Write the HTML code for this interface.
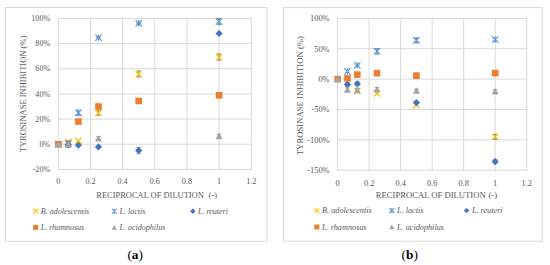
<!DOCTYPE html>
<html><head><meta charset="utf-8"><title>Tyrosinase inhibition</title>
<style>
html,body{margin:0;padding:0;background:#fff;width:550px;height:265px;overflow:hidden}
svg{display:block}
.t{font-family:"Liberation Serif",serif;font-size:8.1px;fill:#595959}
.at{font-family:"Liberation Serif",serif;font-size:8.45px;fill:#595959}
.lg{font-family:"Liberation Serif",serif;font-size:8px;font-style:italic;fill:#595959}
.cap{font-family:"Liberation Serif",serif;font-size:13.4px;fill:#000}
</style></head><body>
<svg width="550" height="265" viewBox="0 0 550 265">
<rect x="5.4" y="7.5" width="261.50" height="233.90" fill="#fff" stroke="#d9d9d9" stroke-width="1"/>
<line x1="57.8" x2="251.7" y1="18.40" y2="18.40" stroke="#d9d9d9" stroke-width="1"/>
<line x1="57.8" x2="251.7" y1="43.57" y2="43.57" stroke="#d9d9d9" stroke-width="1"/>
<line x1="57.8" x2="251.7" y1="68.73" y2="68.73" stroke="#d9d9d9" stroke-width="1"/>
<line x1="57.8" x2="251.7" y1="93.90" y2="93.90" stroke="#d9d9d9" stroke-width="1"/>
<line x1="57.8" x2="251.7" y1="119.07" y2="119.07" stroke="#d9d9d9" stroke-width="1"/>
<line x1="57.8" x2="251.7" y1="144.23" y2="144.23" stroke="#d9d9d9" stroke-width="1"/>
<line x1="57.8" x2="251.7" y1="169.40" y2="169.40" stroke="#d9d9d9" stroke-width="1"/>
<line x1="58.30" x2="58.30" y1="17.9" y2="169.9" stroke="#d9d9d9" stroke-width="1"/>
<line x1="90.45" x2="90.45" y1="17.9" y2="169.9" stroke="#d9d9d9" stroke-width="1"/>
<line x1="122.60" x2="122.60" y1="17.9" y2="169.9" stroke="#d9d9d9" stroke-width="1"/>
<line x1="154.75" x2="154.75" y1="17.9" y2="169.9" stroke="#d9d9d9" stroke-width="1"/>
<line x1="186.90" x2="186.90" y1="17.9" y2="169.9" stroke="#d9d9d9" stroke-width="1"/>
<line x1="219.05" x2="219.05" y1="17.9" y2="169.9" stroke="#d9d9d9" stroke-width="1"/>
<line x1="251.20" x2="251.20" y1="17.9" y2="169.9" stroke="#d9d9d9" stroke-width="1"/>
<text x="50.2" y="21.00" text-anchor="end" style="font-size:8.1px" class="t">100%</text>
<text x="50.2" y="46.17" text-anchor="end" style="font-size:8.1px" class="t">80%</text>
<text x="50.2" y="71.33" text-anchor="end" style="font-size:8.1px" class="t">60%</text>
<text x="50.2" y="96.50" text-anchor="end" style="font-size:8.1px" class="t">40%</text>
<text x="50.2" y="121.67" text-anchor="end" style="font-size:8.1px" class="t">20%</text>
<text x="50.2" y="146.83" text-anchor="end" style="font-size:8.1px" class="t">0%</text>
<text x="50.2" y="172.00" text-anchor="end" style="font-size:8.1px" class="t">-20%</text>
<text x="58.30" y="184.00" text-anchor="middle" style="font-size:8.1px" class="t">0</text>
<text x="90.45" y="184.00" text-anchor="middle" style="font-size:8.1px" class="t">0.2</text>
<text x="122.60" y="184.00" text-anchor="middle" style="font-size:8.1px" class="t">0.4</text>
<text x="154.75" y="184.00" text-anchor="middle" style="font-size:8.1px" class="t">0.6</text>
<text x="186.90" y="184.00" text-anchor="middle" style="font-size:8.1px" class="t">0.8</text>
<text x="219.05" y="184.00" text-anchor="middle" style="font-size:8.1px" class="t">1</text>
<text x="251.20" y="184.00" text-anchor="middle" style="font-size:8.1px" class="t">1.2</text>
<text x="96.3" y="197.9" style="font-size:8.45px" class="at">RECIPROCAL OF DILUTION</text>
<text x="208.6" y="197.9" style="font-size:8.45px" class="at">(-)</text>
<text transform="translate(26.1,94.00) rotate(-90)" text-anchor="middle" style="font-size:8.5px" class="at">TYROSINASE INHIBITION (%)</text>
<path d="M55.20,141.13L61.40,147.33M55.20,147.33L61.40,141.13" stroke="#FFC000" stroke-width="1.3" fill="none"/>
<path d="M65.25,138.62L71.45,144.82M65.25,144.82L71.45,138.62" stroke="#FFC000" stroke-width="1.3" fill="none"/>
<path d="M75.29,137.74L81.49,143.94M75.29,143.94L81.49,137.74" stroke="#FFC000" stroke-width="1.3" fill="none"/>
<path d="M98.49,110.26V115.29M96.29,110.26h4.4M96.29,115.29h4.4" stroke="#505A66" stroke-width="0.8" fill="none" opacity="0.8"/>
<path d="M95.39,109.68L101.59,115.88M95.39,115.88L101.59,109.68" stroke="#FFC000" stroke-width="1.3" fill="none"/>
<path d="M138.68,70.87V77.16M136.48,70.87h4.4M136.48,77.16h4.4" stroke="#505A66" stroke-width="0.8" fill="none" opacity="0.8"/>
<path d="M135.58,70.92L141.78,77.12M135.58,77.12L141.78,70.92" stroke="#FFC000" stroke-width="1.3" fill="none"/>
<path d="M219.05,53.89V60.18M216.85,53.89h4.4M216.85,60.18h4.4" stroke="#505A66" stroke-width="0.8" fill="none" opacity="0.8"/>
<path d="M215.95,53.93L222.15,60.13M215.95,60.13L222.15,53.93" stroke="#FFC000" stroke-width="1.3" fill="none"/>
<path d="M55.10,141.03L61.50,147.43M55.10,147.43L61.50,141.03M58.30,141.03V147.43" stroke="#5B9BD5" stroke-width="1.2" fill="none"/>
<path d="M65.15,140.40L71.55,146.80M65.15,146.80L71.55,140.40M68.35,140.40V146.80" stroke="#5B9BD5" stroke-width="1.2" fill="none"/>
<path d="M78.39,110.01V115.54M76.19,110.01h4.4M76.19,115.54h4.4" stroke="#505A66" stroke-width="0.8" fill="none" opacity="0.8"/>
<path d="M75.19,109.58L81.59,115.98M75.19,115.98L81.59,109.58M78.39,109.58V115.98" stroke="#5B9BD5" stroke-width="1.2" fill="none"/>
<path d="M98.49,37.27V38.03M96.29,37.27h4.4M96.29,38.03h4.4" stroke="#505A66" stroke-width="0.8" fill="none" opacity="0.8"/>
<path d="M95.29,34.45L101.69,40.85M95.29,40.85L101.69,34.45M98.49,34.45V40.85" stroke="#5B9BD5" stroke-width="1.2" fill="none"/>
<path d="M138.68,22.93V23.69M136.48,22.93h4.4M136.48,23.69h4.4" stroke="#505A66" stroke-width="0.8" fill="none" opacity="0.8"/>
<path d="M135.48,20.11L141.88,26.51M135.48,26.51L141.88,20.11M138.68,20.11V26.51" stroke="#5B9BD5" stroke-width="1.2" fill="none"/>
<path d="M219.05,18.53V24.57M216.85,18.53h4.4M216.85,24.57h4.4" stroke="#505A66" stroke-width="0.8" fill="none" opacity="0.8"/>
<path d="M215.85,18.35L222.25,24.75M215.85,24.75L222.25,18.35M219.05,18.35V24.75" stroke="#5B9BD5" stroke-width="1.2" fill="none"/>
<path d="M68.35,141.26L71.95,144.86L68.35,148.46L64.75,144.86Z" fill="#4472C4"/>
<path d="M78.39,141.64L81.99,145.24L78.39,148.84L74.79,145.24Z" fill="#4472C4"/>
<path d="M98.49,143.28L102.09,146.88L98.49,150.48L94.89,146.88Z" fill="#4472C4"/>
<path d="M138.68,147.38V153.67M136.48,147.38h4.4M136.48,153.67h4.4" stroke="#505A66" stroke-width="0.8" fill="none" opacity="0.8"/>
<path d="M138.68,146.93L142.28,150.53L138.68,154.12L135.08,150.53Z" fill="#4472C4"/>
<path d="M219.05,29.90L222.65,33.50L219.05,37.10L215.45,33.50Z" fill="#4472C4"/>
<rect x="55.00" y="140.93" width="6.60" height="6.60" fill="#ED7D31"/>
<rect x="75.09" y="118.28" width="6.60" height="6.60" fill="#ED7D31"/>
<rect x="95.19" y="103.18" width="6.60" height="6.60" fill="#ED7D31"/>
<rect x="135.38" y="97.65" width="6.60" height="6.60" fill="#ED7D31"/>
<rect x="215.75" y="91.98" width="6.60" height="6.60" fill="#ED7D31"/>
<path d="M58.30,140.73L61.80,147.38L54.80,147.38Z" fill="#A5A5A5"/>
<path d="M68.35,141.09V147.38M66.15,141.09h4.4M66.15,147.38h4.4" stroke="#505A66" stroke-width="0.8" fill="none" opacity="0.8"/>
<path d="M68.35,140.73L71.85,147.38L64.85,147.38Z" fill="#A5A5A5"/>
<path d="M98.49,136.56V140.33M96.29,136.56h4.4M96.29,140.33h4.4" stroke="#505A66" stroke-width="0.8" fill="none" opacity="0.8"/>
<path d="M98.49,134.95L101.99,141.60L94.99,141.60Z" fill="#A5A5A5"/>
<path d="M219.05,134.29V138.07M216.85,134.29h4.4M216.85,138.07h4.4" stroke="#505A66" stroke-width="0.8" fill="none" opacity="0.8"/>
<path d="M219.05,132.68L222.55,139.33L215.55,139.33Z" fill="#A5A5A5"/>
<path d="M33.27,208.98L37.93,213.62M33.27,213.62L37.93,208.98" stroke="#FFC000" stroke-width="1.1" fill="none"/>
<text x="40.80" y="213.90" style="font-size:8.0px" class="lg">B. adolescentis</text>
<path d="M111.90,208.90L116.70,213.70M111.90,213.70L116.70,208.90M114.30,208.90V213.70" stroke="#5B9BD5" stroke-width="1.1" fill="none"/>
<text x="119.50" y="213.90" style="font-size:8.0px" class="lg">L. lactis</text>
<path d="M192.80,208.60L195.50,211.30L192.80,214.00L190.10,211.30Z" fill="#4472C4"/>
<text x="198.00" y="213.90" style="font-size:8.0px" class="lg">L. reuteri</text>
<rect x="33.12" y="224.93" width="4.95" height="4.95" fill="#ED7D31"/>
<text x="40.80" y="230.00" style="font-size:8.0px" class="lg">L. rhamnosus</text>
<path d="M114.30,224.78L116.92,229.76L111.67,229.76Z" fill="#A5A5A5"/>
<text x="119.50" y="230.00" style="font-size:8.0px" class="lg">L. acidophilus</text>
<rect x="283.4" y="7.6" width="258.90" height="233.60" fill="#fff" stroke="#d9d9d9" stroke-width="1"/>
<line x1="337.1" x2="527.2" y1="18.40" y2="18.40" stroke="#d9d9d9" stroke-width="1"/>
<line x1="337.1" x2="527.2" y1="48.76" y2="48.76" stroke="#d9d9d9" stroke-width="1"/>
<line x1="337.1" x2="527.2" y1="79.12" y2="79.12" stroke="#d9d9d9" stroke-width="1"/>
<line x1="337.1" x2="527.2" y1="109.48" y2="109.48" stroke="#d9d9d9" stroke-width="1"/>
<line x1="337.1" x2="527.2" y1="139.84" y2="139.84" stroke="#d9d9d9" stroke-width="1"/>
<line x1="337.1" x2="527.2" y1="170.20" y2="170.20" stroke="#d9d9d9" stroke-width="1"/>
<line x1="337.60" x2="337.60" y1="17.9" y2="170.7" stroke="#d9d9d9" stroke-width="1"/>
<line x1="369.12" x2="369.12" y1="17.9" y2="170.7" stroke="#d9d9d9" stroke-width="1"/>
<line x1="400.63" x2="400.63" y1="17.9" y2="170.7" stroke="#d9d9d9" stroke-width="1"/>
<line x1="432.15" x2="432.15" y1="17.9" y2="170.7" stroke="#d9d9d9" stroke-width="1"/>
<line x1="463.67" x2="463.67" y1="17.9" y2="170.7" stroke="#d9d9d9" stroke-width="1"/>
<line x1="495.18" x2="495.18" y1="17.9" y2="170.7" stroke="#d9d9d9" stroke-width="1"/>
<line x1="526.70" x2="526.70" y1="17.9" y2="170.7" stroke="#d9d9d9" stroke-width="1"/>
<text x="329.6" y="21.40" text-anchor="end" style="font-size:8.4px" class="t">100%</text>
<text x="329.6" y="51.76" text-anchor="end" style="font-size:8.4px" class="t">50%</text>
<text x="329.6" y="82.12" text-anchor="end" style="font-size:8.4px" class="t">0%</text>
<text x="329.6" y="112.48" text-anchor="end" style="font-size:8.4px" class="t">-50%</text>
<text x="329.6" y="142.84" text-anchor="end" style="font-size:8.4px" class="t">-100%</text>
<text x="329.6" y="173.20" text-anchor="end" style="font-size:8.4px" class="t">-150%</text>
<text x="337.60" y="185.80" text-anchor="middle" style="font-size:8.4px" class="t">0</text>
<text x="369.12" y="185.80" text-anchor="middle" style="font-size:8.4px" class="t">0.2</text>
<text x="400.63" y="185.80" text-anchor="middle" style="font-size:8.4px" class="t">0.4</text>
<text x="432.15" y="185.80" text-anchor="middle" style="font-size:8.4px" class="t">0.6</text>
<text x="463.67" y="185.80" text-anchor="middle" style="font-size:8.4px" class="t">0.8</text>
<text x="495.18" y="185.80" text-anchor="middle" style="font-size:8.4px" class="t">1</text>
<text x="526.70" y="185.80" text-anchor="middle" style="font-size:8.4px" class="t">1.2</text>
<text x="375.8" y="197.7" style="font-size:8.63px" class="at">RECIPROCAL OF DILUTION</text>
<text x="488.4" y="197.7" style="font-size:8.63px" class="at">(-)</text>
<text transform="translate(302.8,95.60) rotate(-90)" text-anchor="middle" style="font-size:8.7px" class="at">TYROSINASE INHIBITION (%)</text>
<path d="M354.20,87.86L360.40,94.06M354.20,94.06L360.40,87.86" stroke="#FFC000" stroke-width="1.3" fill="none"/>
<path d="M373.90,90.29L380.10,96.49M373.90,96.49L380.10,90.29" stroke="#FFC000" stroke-width="1.3" fill="none"/>
<path d="M413.29,102.13L419.49,108.33M413.29,108.33L419.49,102.13" stroke="#FFC000" stroke-width="1.3" fill="none"/>
<path d="M495.18,134.38V139.23M492.98,134.38h4.4M492.98,139.23h4.4" stroke="#505A66" stroke-width="0.8" fill="none" opacity="0.8"/>
<path d="M492.08,133.70L498.28,139.90M492.08,139.90L498.28,133.70" stroke="#FFC000" stroke-width="1.3" fill="none"/>
<path d="M344.25,68.15L350.65,74.55M344.25,74.55L350.65,68.15M347.45,68.15V74.55" stroke="#5B9BD5" stroke-width="1.2" fill="none"/>
<path d="M357.30,64.79V66.00M355.10,64.79h4.4M355.10,66.00h4.4" stroke="#505A66" stroke-width="0.8" fill="none" opacity="0.8"/>
<path d="M354.10,62.20L360.50,68.60M354.10,68.60L360.50,62.20M357.30,62.20V68.60" stroke="#5B9BD5" stroke-width="1.2" fill="none"/>
<path d="M377.00,48.52V53.98M374.80,48.52h4.4M374.80,53.98h4.4" stroke="#505A66" stroke-width="0.8" fill="none" opacity="0.8"/>
<path d="M373.80,48.05L380.20,54.45M373.80,54.45L380.20,48.05M377.00,48.05V54.45" stroke="#5B9BD5" stroke-width="1.2" fill="none"/>
<path d="M416.39,37.89V42.75M414.19,37.89h4.4M414.19,42.75h4.4" stroke="#505A66" stroke-width="0.8" fill="none" opacity="0.8"/>
<path d="M413.19,37.12L419.59,43.52M413.19,43.52L419.59,37.12M416.39,37.12V43.52" stroke="#5B9BD5" stroke-width="1.2" fill="none"/>
<path d="M495.18,38.44V40.87M492.98,38.44h4.4M492.98,40.87h4.4" stroke="#505A66" stroke-width="0.8" fill="none" opacity="0.8"/>
<path d="M491.98,36.45L498.38,42.85M491.98,42.85L498.38,36.45M495.18,36.45V42.85" stroke="#5B9BD5" stroke-width="1.2" fill="none"/>
<path d="M347.45,82.58V86.22M345.25,82.58h4.4M345.25,86.22h4.4" stroke="#505A66" stroke-width="0.8" fill="none" opacity="0.8"/>
<path d="M347.45,80.80L351.05,84.40L347.45,88.00L343.85,84.40Z" fill="#4472C4"/>
<path d="M357.30,81.91V85.56M355.10,81.91h4.4M355.10,85.56h4.4" stroke="#505A66" stroke-width="0.8" fill="none" opacity="0.8"/>
<path d="M357.30,80.13L360.90,83.73L357.30,87.33L353.70,83.73Z" fill="#4472C4"/>
<path d="M416.39,98.96L419.99,102.56L416.39,106.16L412.79,102.56Z" fill="#4472C4"/>
<path d="M495.18,159.76V163.40M492.98,159.76h4.4M492.98,163.40h4.4" stroke="#505A66" stroke-width="0.8" fill="none" opacity="0.8"/>
<path d="M495.18,157.98L498.78,161.58L495.18,165.18L491.58,161.58Z" fill="#4472C4"/>
<rect x="334.30" y="75.82" width="6.60" height="6.60" fill="#ED7D31"/>
<rect x="344.15" y="75.03" width="6.60" height="6.60" fill="#ED7D31"/>
<rect x="354.00" y="71.33" width="6.60" height="6.60" fill="#ED7D31"/>
<rect x="373.70" y="69.93" width="6.60" height="6.60" fill="#ED7D31"/>
<rect x="413.09" y="72.30" width="6.60" height="6.60" fill="#ED7D31"/>
<rect x="491.88" y="69.75" width="6.60" height="6.60" fill="#ED7D31"/>
<path d="M337.60,75.62L341.10,82.27L334.10,82.27Z" fill="#A5A5A5"/>
<path d="M347.45,87.80V91.45M345.25,87.80h4.4M345.25,91.45h4.4" stroke="#505A66" stroke-width="0.8" fill="none" opacity="0.8"/>
<path d="M347.45,86.12L350.95,92.77L343.95,92.77Z" fill="#A5A5A5"/>
<path d="M357.30,88.23V91.87M355.10,88.23h4.4M355.10,91.87h4.4" stroke="#505A66" stroke-width="0.8" fill="none" opacity="0.8"/>
<path d="M357.30,86.55L360.80,93.20L353.80,93.20Z" fill="#A5A5A5"/>
<path d="M377.00,87.62V91.26M374.80,87.62h4.4M374.80,91.26h4.4" stroke="#505A66" stroke-width="0.8" fill="none" opacity="0.8"/>
<path d="M377.00,85.94L380.50,92.59L373.50,92.59Z" fill="#A5A5A5"/>
<path d="M416.39,89.14V92.17M414.19,89.14h4.4M414.19,92.17h4.4" stroke="#505A66" stroke-width="0.8" fill="none" opacity="0.8"/>
<path d="M416.39,87.16L419.89,93.81L412.89,93.81Z" fill="#A5A5A5"/>
<path d="M495.18,89.75V92.78M492.98,89.75h4.4M492.98,92.78h4.4" stroke="#505A66" stroke-width="0.8" fill="none" opacity="0.8"/>
<path d="M495.18,87.76L498.68,94.41L491.68,94.41Z" fill="#A5A5A5"/>
<path d="M314.48,208.28L319.12,212.92M314.48,212.92L319.12,208.28" stroke="#FFC000" stroke-width="1.1" fill="none"/>
<text x="322.10" y="213.10" style="font-size:8.2px" class="lg">B. adolescentis</text>
<path d="M389.40,208.20L394.20,213.00M389.40,213.00L394.20,208.20M391.80,208.20V213.00" stroke="#5B9BD5" stroke-width="1.1" fill="none"/>
<text x="397.10" y="213.10" style="font-size:8.2px" class="lg">L. lactis</text>
<path d="M466.60,207.90L469.30,210.60L466.60,213.30L463.90,210.60Z" fill="#4472C4"/>
<text x="471.90" y="213.10" style="font-size:8.2px" class="lg">L. reuteri</text>
<rect x="314.32" y="224.53" width="4.95" height="4.95" fill="#ED7D31"/>
<text x="322.10" y="229.50" style="font-size:8.2px" class="lg">L. rhamnosus</text>
<path d="M391.80,224.38L394.43,229.36L389.18,229.36Z" fill="#A5A5A5"/>
<text x="397.10" y="229.50" style="font-size:8.2px" class="lg">L. acidophilus</text>
<text x="135.2" y="258.6" text-anchor="middle" class="cap">(<tspan font-weight="bold">a</tspan>)</text>
<text x="409.8" y="258.6" text-anchor="middle" class="cap">(<tspan font-weight="bold">b</tspan>)</text>
</svg>
</body></html>
